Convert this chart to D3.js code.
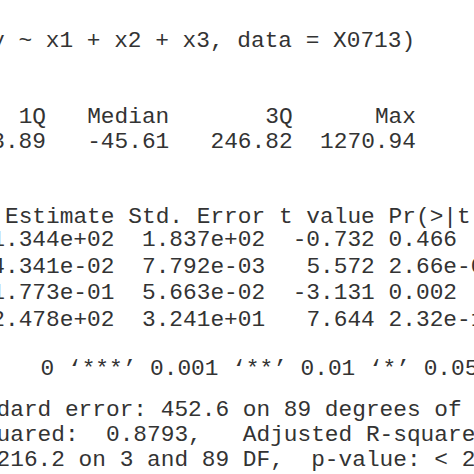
<!DOCTYPE html>
<html><head><meta charset="utf-8">
<script src="https://cdn.jsdelivr.net/npm/d3@7"></script>
<style>body{margin:0;background:#fff}svg{display:block}</style>
</head><body>
<script>
// ---- data (R lm summary output) ----
const callText = "lm(formula = y ~ x1 + x2 + x3, data = X0713)";
const residLabels = ["Min", "1Q", "Median", "3Q", "Max"];
const residValues = ["-2213.89", "-213.89", "-45.61", "246.82", "1270.94"];
const coefHeader = ["Estimate", "Std. Error", "t value", "Pr(>|t|)"];
const estimates = ["-1.344e+02", "4.341e-02", "-1.773e-01", "2.478e+02"];
const stdErrors = ["1.837e+02", "7.792e-03", "5.663e-02", "3.241e+01"];
const tValues = ["-0.732", "5.572", "-3.131", "7.644"];
const pValues = ["0.466", "2.66e-05", "0.002", "2.32e-11"];
const signifText = "0 \u2018***\u2019 0.001 \u2018**\u2019 0.01 \u2018*\u2019 0.05 \u2018.\u2019 0.1 \u2018 \u2019 1";
const footerLines = [
  "Residual standard error: 452.6 on 89 degrees of freedom",
  "Multiple R-squared:  0.8793,   Adjusted R-squared:  0.8752",
  "F-statistic: 216.2 on 3 and 89 DF,  p-value: < 2.2e-16"
];

const W = 474, H = 474, CW = 13.7;
const svg = d3.select("body").append("svg").attr("width", W).attr("height", H);
const col = d3.scaleLinear().domain([0, 1]).range([5, 5 + CW]); // column -> x
const g = svg.append("g")
  .attr("font-family", "'Liberation Mono', 'DejaVu Sans Mono', monospace")
  .attr("font-size", 22.8).attr("fill", "#333333");

function put(text, c, y) {
  g.append("text").attr("x", col(c)).attr("y", y)
    .attr("xml:space", "preserve").style("white-space", "pre").text(text);
}
function putR(text, e, y) { put(text, e - text.length + 1, y); }

put(callText, -1 - callText.indexOf("y ~"), 47);

const residEnds = [-6, 2, 11, 20, 29];
residLabels.forEach((t, i) => putR(t, residEnds[i], 123));
residValues.forEach((t, i) => {
  if (i === 1) put(t, -t.indexOf("."), 148);
  else if (i > 1) putR(t, residEnds[i], 148);
});

const hdrCols = [0, 9, 20, 28];
coefHeader.forEach((t, i) => put(t, hdrCols[i], 223));
const rowY = d3.scaleLinear().domain([0, 1]).range([246, 272.7]);
estimates.forEach((v, i) => {
  const y = rowY(i);
  putR(v, 7, y);
  putR(stdErrors[i], 18, y);
  putR(tValues[i], 26, y);
  put(pValues[i], 28, y);
});

put(signifText, 2.6, 375);

const footY = [416, 441, 466];
footerLines.forEach((t, i) => put(t, -13 - 0.6, footY[i]));
</script>
</body></html>
